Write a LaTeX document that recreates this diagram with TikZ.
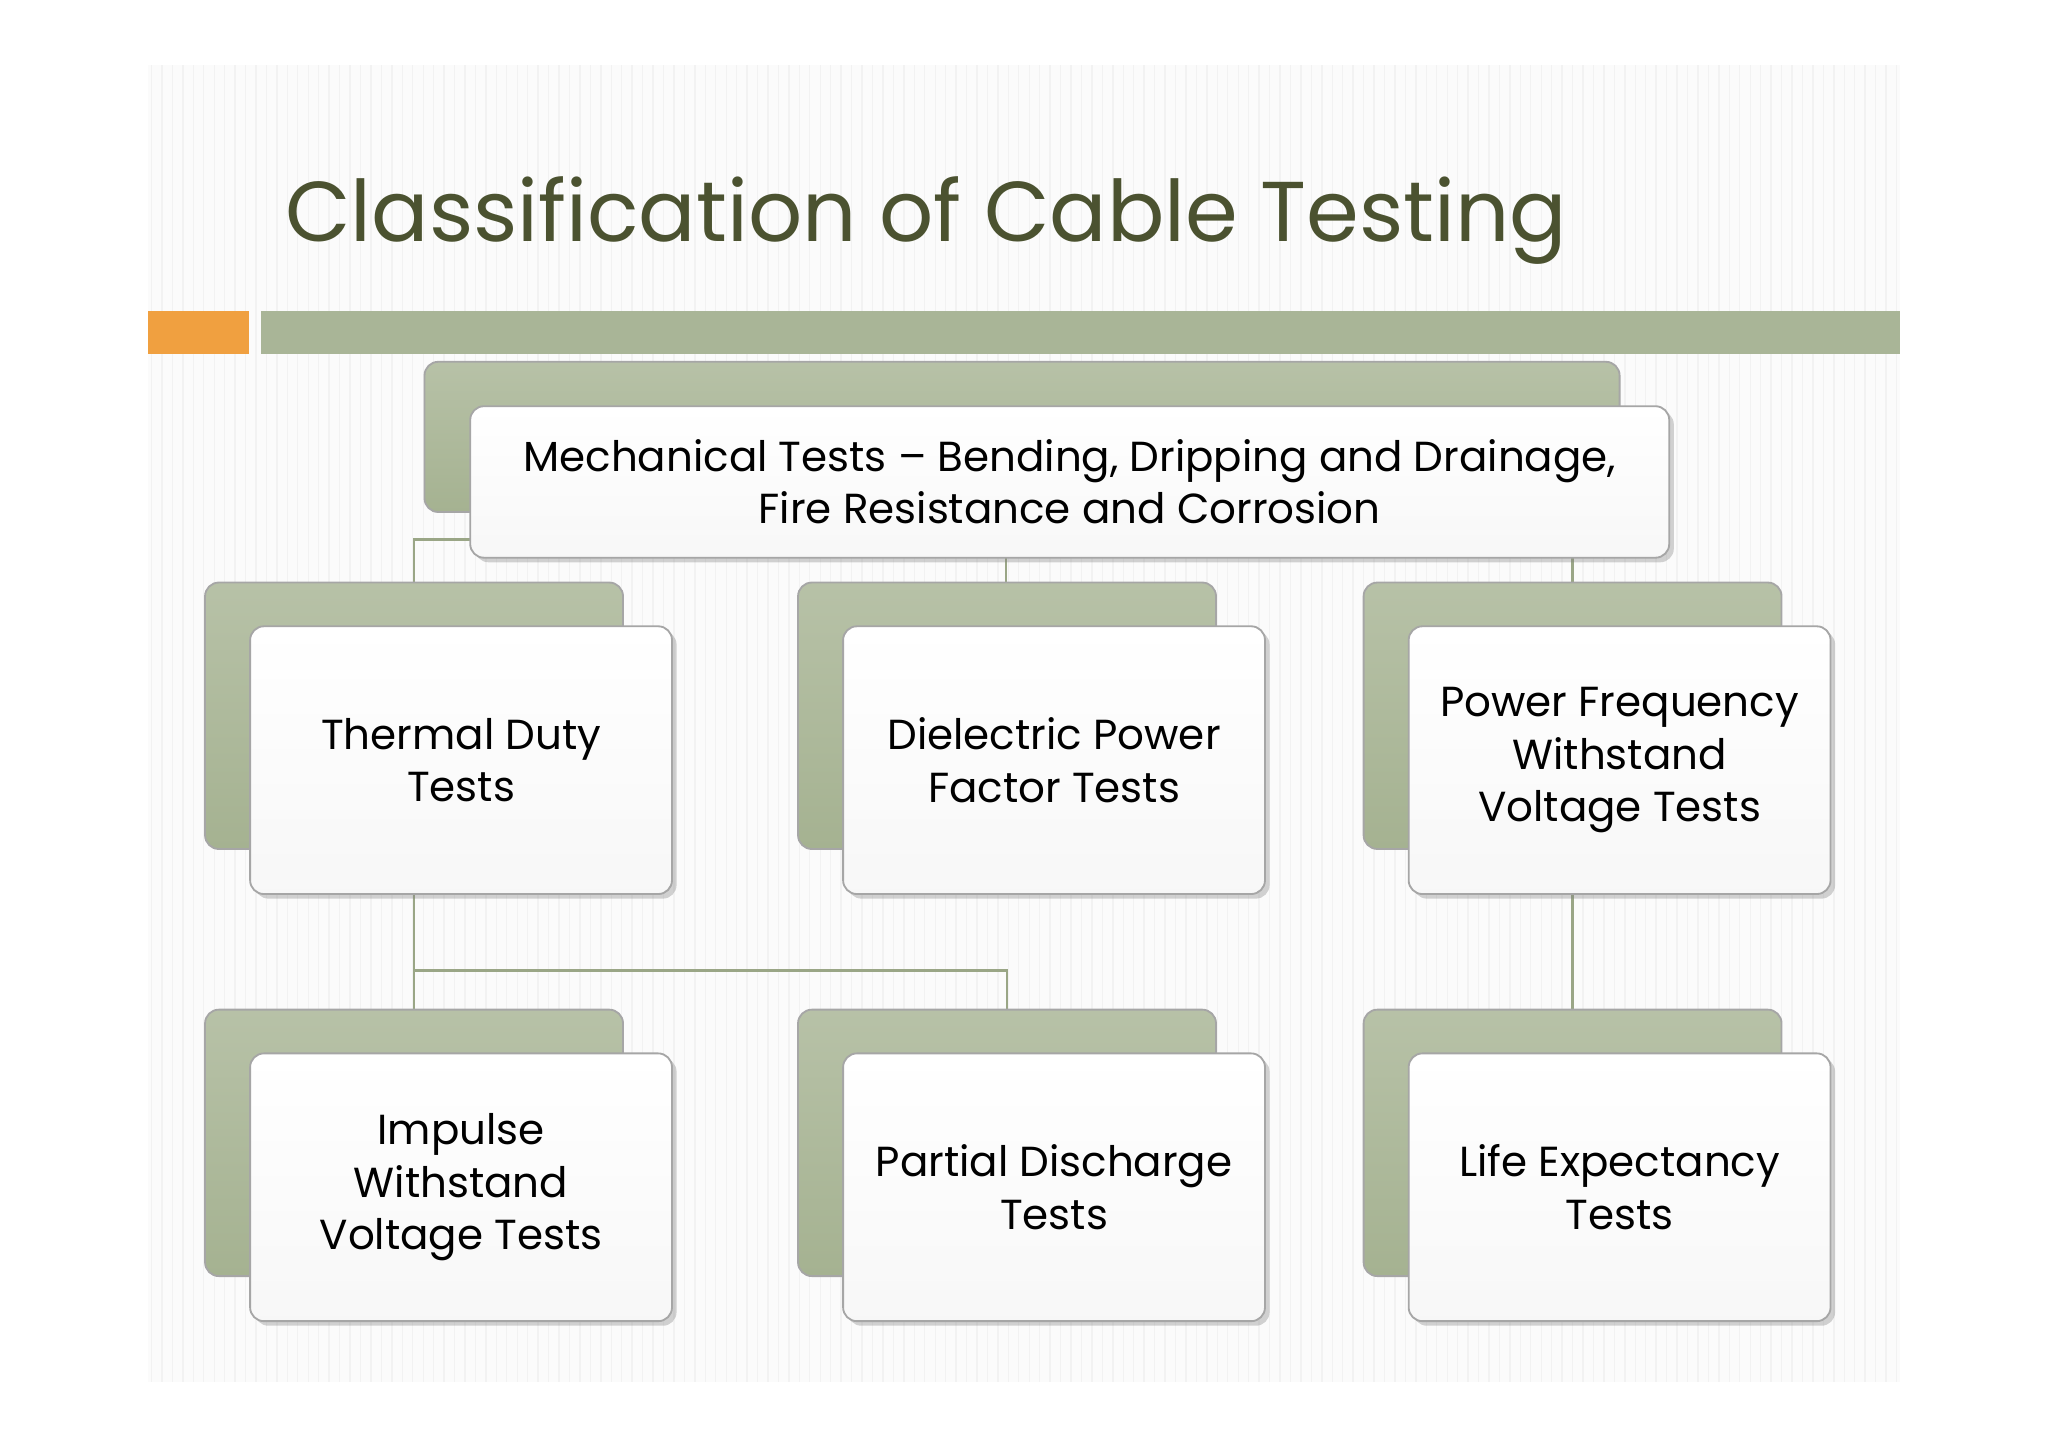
\documentclass[tikz,border=0pt]{standalone}
\usepackage{fontspec}
\setmainfont{Poppins}
\usetikzlibrary{shadows}
\definecolor{olive}{HTML}{4B5230}
\definecolor{bargreen}{HTML}{A9B597}
\definecolor{barorange}{HTML}{F0A040}
\definecolor{backg}{HTML}{A5B291}
\definecolor{linec}{HTML}{9AA686}
\begin{document}
\begin{tikzpicture}[x=0.02cm,y=-0.02cm,
  back/.style={draw=gray!70,line width=0.8pt,rounded corners=6pt,top color=backg!80,bottom color=backg,inner sep=0pt},
  front/.style={draw=gray!70,line width=0.8pt,rounded corners=6pt,top color=white,bottom color=gray!6,drop shadow={opacity=0.35,shadow xshift=2pt,shadow yshift=-2pt},inner sep=0pt,align=center,font=\fontsize{18.3}{22.8}\selectfont},
  conn/.style={draw=linec,line width=1pt}]
\useasboundingbox (0,0) rectangle (1568,1108);
\fill[white] (0,0) rectangle (1568,1108);
\fill[gray!3] (113,50) rectangle (1455,1058);
\foreach \x in {116,124,...,1452} \draw[gray!10,line width=0.6pt] (\x,50) -- (\x,1058);
\node[anchor=base west,text=olive,font=\fontsize{37}{44}\selectfont,inner sep=0pt] (title) at (218,185) {Classification of Cable Testing};
\fill[barorange] (113,238) rectangle (191,271);
\fill[bargreen] (200,238) rectangle (1455,271);
% connectors
\coordinate (c1) at (317,413);
\coordinate (c2) at (317,743);
\coordinate (c3) at (771,743);
\draw[conn] (360,413) -- (c1) -- (317,446);
\draw[conn] (770,427) -- (770,446);
\draw[conn] (1204,427) -- (1204,446);
\draw[conn] (317,685) -- (c2) -- (317,773);
\draw[conn] (c2) -- (c3) -- (771,773);
\draw[conn] (1204,685) -- (1204,773);
% top
\node[back,minimum width=915*0.02cm,minimum height=115*0.02cm] (topb) at (782.5,334.5) {};
\node[front,minimum width=918*0.02cm,minimum height=116*0.02cm] (top) at (819,369) {Mechanical Tests – Bending, Dripping and Drainage,\\Fire Resistance and Corrosion};
% boxes
\foreach \n/\bx/\fx/\by/\fy/\t in {
  a/317/353/548/582/{Thermal Duty\\Tests},
  b/771/807/548/582/{Dielectric Power\\Factor Tests},
  c/1204/1240/548/582/{Power Frequency\\Withstand\\Voltage Tests},
  d/317/353/875/909/{Impulse\\Withstand\\Voltage Tests},
  e/771/807/875/909/{Partial Discharge\\Tests},
  f/1204/1240/875/909/{Life Expectancy\\Tests}} {
  \node[back,minimum width=320*0.02cm,minimum height=204*0.02cm] (\n b) at (\bx,\by) {};
  \node[front,minimum width=323*0.02cm,minimum height=205*0.02cm] (\n) at (\fx,\fy) {\t};
}
\end{tikzpicture}
\end{document}
